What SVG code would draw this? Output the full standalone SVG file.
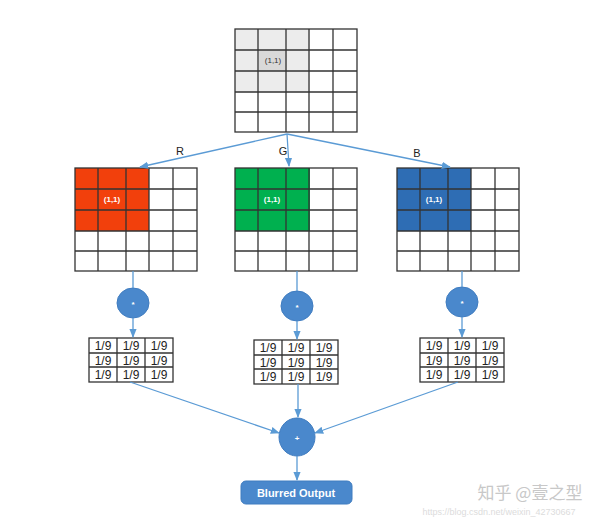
<svg xmlns="http://www.w3.org/2000/svg" width="600" height="518" viewBox="0 0 600 518">
<style>
.g{fill:none;stroke:#333;stroke-width:1.3}
.c{stroke:#5b9bd5;stroke-width:1.3;fill:none}
.op{fill:#4a88cc;stroke:#3f7cc0}
.k{font:12px "Liberation Sans",Arial,sans-serif;fill:#222;text-anchor:middle}
.w{font:bold 8px "Liberation Sans",Arial,sans-serif;fill:#fff;text-anchor:middle}
.l{font:11px "Liberation Sans",Arial,sans-serif;fill:#222;text-anchor:middle}
</style>
<defs>
<marker id="a" viewBox="0 0 10 10" refX="9" refY="5" markerWidth="7" markerHeight="7" orient="auto"><path d="M0,1L10,5L0,9z" fill="#5b9bd5"/></marker>
<g id="grid"><rect class="g" x="0" y="0" width="122" height="103"/><path class="g" d="M23,0V103M51,0V103M74,0V103M98,0V103M0,21H122M0,42H122M0,63H122M0,83H122"/></g>
<g id="kern"><rect x="0" y="0" width="84" height="44" fill="#fff" stroke="#333" stroke-width="1.3"/><path class="g" d="M28,0V44M56,0V44M0,15H84M0,29H84"/>
<text class="k" x="14" y="12">1/9</text><text class="k" x="42" y="12">1/9</text><text class="k" x="70" y="12">1/9</text>
<text class="k" x="14" y="26.5">1/9</text><text class="k" x="42" y="26.5">1/9</text><text class="k" x="70" y="26.5">1/9</text>
<text class="k" x="14" y="41">1/9</text><text class="k" x="42" y="41">1/9</text><text class="k" x="70" y="41">1/9</text></g>
</defs>
<rect width="600" height="518" fill="#fff"/>
<g id="input"><rect x="235" y="29" width="75" height="63" fill="#ececec"/><rect x="259" y="50" width="28" height="21" fill="#d9d9d9"/><use href="#grid" x="235" y="29"/><text x="273" y="63" font-family="Liberation Sans, sans-serif" font-size="8" fill="#333" text-anchor="middle">(1,1)</text></g>
<g id="red"><rect x="75" y="168" width="74" height="63" fill="#f2400c"/><use href="#grid" x="75" y="168"/><text class="w" x="112" y="202">(1,1)</text></g>
<g id="green"><rect x="235" y="168" width="75" height="63" fill="#00b04f"/><use href="#grid" x="235" y="168"/><text class="w" x="272" y="202">(1,1)</text></g>
<g id="blue"><rect x="397" y="168" width="74" height="63" fill="#2e6db4"/><use href="#grid" x="397" y="168"/><text class="w" x="434" y="202">(1,1)</text></g>
<g id="conv-r"><ellipse class="op" cx="133" cy="303" rx="16" ry="15"/><text class="w" x="133" y="307" font-size="11">*</text></g>
<g id="conv-g"><ellipse class="op" cx="297" cy="306" rx="16" ry="15"/><text class="w" x="297" y="310" font-size="11">*</text></g>
<g id="conv-b"><ellipse class="op" cx="462" cy="302" rx="16" ry="15"/><text class="w" x="462" y="306" font-size="11">*</text></g>
<g id="kern-r"><use href="#kern" x="89" y="338"/></g>
<g id="kern-g"><use href="#kern" x="254" y="340"/></g>
<g id="kern-b"><use href="#kern" x="420" y="338"/></g>
<g id="sum"><ellipse class="op" cx="297" cy="437" rx="18" ry="19"/><text class="w" x="297" y="441" font-size="12">+</text></g>
<g id="output"><rect x="241" y="481" width="111" height="23" rx="5" fill="#4a88cc" stroke="#3f7cc0"/><text x="296" y="497" font-family="Liberation Sans, sans-serif" font-size="11" font-weight="bold" fill="#fff" text-anchor="middle">Blurred Output</text></g>
<g id="connectors">
<path class="c" marker-end="url(#a)" d="M287,134L140,167"/>
<path class="c" marker-end="url(#a)" d="M287,134L289,166"/>
<path class="c" marker-end="url(#a)" d="M287,134L450,167"/>
<text class="l" x="180" y="155">R</text><text class="l" x="283" y="155">G</text><text class="l" x="417" y="157">B</text>
<path class="c" d="M133,271V288M297,271V291M462,271V287"/>
<path class="c" marker-end="url(#a)" d="M133,318V337"/>
<path class="c" marker-end="url(#a)" d="M297,321V339"/>
<path class="c" marker-end="url(#a)" d="M462,317V337"/>
<path class="c" marker-end="url(#a)" d="M130,382L279,433"/>
<path class="c" marker-end="url(#a)" d="M298,384V417"/>
<path class="c" marker-end="url(#a)" d="M458,382L315,433"/>
<path class="c" marker-end="url(#a)" d="M297,456V480"/>
</g>
<text x="530" y="499" font-family="Noto Sans CJK SC, sans-serif" font-size="17" fill="#c8c8c8" text-anchor="middle">知乎 @壹之型</text>
<text x="499" y="515" font-family="Liberation Sans, sans-serif" font-size="9" fill="#dcdcdc" text-anchor="middle">https://blog.csdn.net/weixin_42730667</text>
</svg>
